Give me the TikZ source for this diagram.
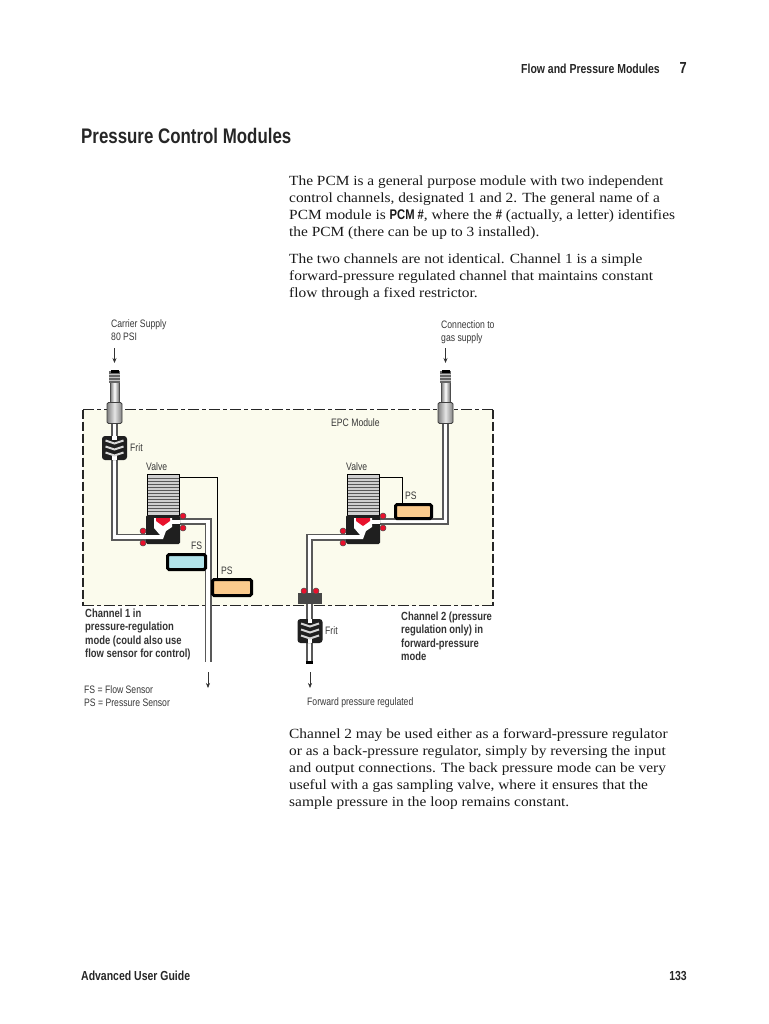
\documentclass[tikz,border=0pt]{standalone}
\usepackage{fontspec}
\usetikzlibrary{arrows.meta}
\setmainfont[FakeStretch=1.1]{Liberation Serif}
\newfontfamily\condfont[FakeStretch=0.80]{Liberation Sans}
\definecolor{framefill}{HTML}{FBFBED}
\definecolor{labelgray}{HTML}{383838}
\definecolor{fsblue}{HTML}{B2E4EA}
\definecolor{psorange}{HTML}{FBCB8D}
\definecolor{pinred}{HTML}{E8112D}
\definecolor{bodygray}{HTML}{C4C4C4}
% threaded inlet: #1 name, #2 x
\newcommand{\inletfitting}[2]{
	\shade[left color=black!55, right color=black!55, middle color=white] (#2-4.5,372) rectangle (#2+4.5,403);
	\draw[black!70, line width=0.7pt] (#2-4.5,382) -- (#2-4.5,403) (#2+4.5,382) -- (#2+4.5,403);
	\fill[black!60] (#2-5.5,371) rectangle (#2+5.5,383);
	\fill[black] (#2-4,369.5) rectangle (#2+4,372.5);
	\foreach \yy in {374.5,377.5,380.5} \draw[bodygray, line width=1.1pt] (#2-5.5,\yy) -- (#2+5.5,\yy);
	\node[fitbody] (#1) at (#2,413) {};
}
% frit: #1 name, #2 x, #3 y
\newcommand{\fritblock}[3]{
	\node[fritbox] (#1) at (#2,#3) {};
	\fill[white] (#2-2.2,#3-12) rectangle (#2+2.2,#3-8);
	\fill[white] (#2-2.2,#3+8) rectangle (#2+2.2,#3+12);
	\foreach \yy in {-6,0,6}
		\draw[bodygray!70!white, line width=2pt] (#2-9,#3+\yy-1.5) -- (#2,#3+\yy+1.5) -- (#2+9,#3+\yy-1.5);
}
% valve: #1 name, #2 x offset
\newcommand{\valveblock}[2]{
	\node[solenoid] (#1) at (163+#2,494.5) {};
	\foreach \yy in {478,481,...,513} \draw[black!65, line width=0.8pt] (147.5+#2,\yy) -- (178.5+#2,\yy);
	\fill[black!88, rounded corners=1.5pt] (146+#2,515) -- (180+#2,515) -- (180+#2,544) -- (146+#2,544) -- cycle;
	\fill[white] (154+#2,518) -- (172+#2,518) -- (172+#2,527) -- (166+#2,531) -- (163+#2,539) -- (146+#2,539) -- (146+#2,535) -- (160+#2,535) -- (154+#2,528) -- cycle;
	\fill[white] (170+#2,519.5) rectangle (180+#2,523.5);
	\fill[pinred] (156+#2,518) -- (170+#2,518) -- (170+#2,521) -- (163+#2,526) -- (156+#2,521) -- cycle;
	\node[pin dot] (#1a) at (183+#2,516) {};
	\node[pin dot] (#1b) at (183+#2,528) {};
	\node[pin dot] (#1c) at (143+#2,531) {};
	\node[pin dot] (#1d) at (143+#2,543) {};
}
\tikzset{
	body text/.style={anchor=north west, inner sep=0pt, align=left, font=\fontsize{14}{17}\selectfont, text=black!90},
	small label/.style={anchor=base west, inner sep=0pt, align=left, text=labelgray, font=\condfont\fontsize{10.8}{13}\selectfont},
	channel label/.style={anchor=north west, inner sep=0pt, align=left, text=black!80, font=\condfont\bfseries\fontsize{11.8}{13.2}\selectfont},
	page label/.style={inner sep=0pt, text=black!85, font=\condfont\bfseries\fontsize{13.1}{15}\selectfont},
	tube/.style={draw=black!65, line width=7pt, postaction={draw=white, line width=3.8pt}},
	signal/.style={draw=black, line width=1pt},
	sensor/.style={draw=black, line width=3pt, rounded corners=1.5pt, inner sep=0pt},
	fritbox/.style={fill=black!88, rounded corners=3pt, minimum width=25pt, minimum height=24pt, inner sep=0pt},
	fitbody/.style={left color=black!50, right color=black!50, middle color=black!10, draw=black!75, line width=0.8pt, rounded corners=1.5pt, minimum width=15pt, minimum height=21pt, inner sep=0pt},
	solenoid/.style={fill=bodygray!80!white, draw=black, line width=1pt, minimum width=32pt, minimum height=41pt, inner sep=0pt},
	pin dot/.style={circle, fill=pinred, draw=black!70, line width=0.5pt, minimum size=6pt, inner sep=0pt},
	flow/.style={-{Stealth[length=5pt,width=4pt]}, draw=black!80, line width=0.6pt},
}
\begin{document}
\begin{tikzpicture}[x=1pt, y=-1pt]
	\useasboundingbox (0,0) rectangle (768,1024);
	% page head and foot
	\node[page label, anchor=base east] (headtitle) at (660,74) {Flow and Pressure Modules};
	\node[page label, anchor=base east, font=\condfont\bfseries\fontsize{16}{18}\selectfont] (headchapter) at (687,74) {7};
	\node[anchor=base west, inner sep=0pt, text=black!85, font=\condfont\bfseries\fontsize{21.1}{24}\selectfont] (pagetitle) at (81,144) {Pressure Control Modules};
	\node[page label, anchor=base west] (footguide) at (81,980) {Advanced User Guide};
	\node[page label, anchor=base east] (footpage) at (687,980) {133};

	% body text
	\node[body text] (parone) at (289,176) {The PCM is a general purpose module with two independent\\control channels, designated 1 and 2. The general name of a\\PCM module is {\condfont\bfseries PCM \#}, where the {\condfont\bfseries \#} (actually, a letter) identifies\\the PCM (there can be up to 3 installed).};
	\node[body text] (partwo) at (289,254) {The two channels are not identical. Channel 1 is a simple\\forward-pressure regulated channel that maintains constant\\flow through a fixed restrictor.};
	\node[body text] (parthree) at (289,728) {Channel 2 may be used either as a forward-pressure regulator\\or as a back-pressure regulator, simply by reversing the input\\and output connections. The back pressure mode can be very\\useful with a gas sampling valve, where it ensures that the\\sample pressure in the loop remains constant.};

	% EPC frame
	\fill[framefill] (83,409.5) rectangle (493,605.5);
	\draw[black!85, line width=1pt, dash pattern=on 11pt off 3pt on 4pt off 3pt] (83,409.5) -- (493,409.5);
	\draw[black!85, line width=1pt, dash pattern=on 11pt off 3pt on 4pt off 3pt] (83,605.5) -- (493,605.5);
	\draw[black!85, line width=1.6pt, dash pattern=on 9pt off 3pt] (83,409.5) -- (83,605.5);
	\draw[black!85, line width=1.6pt, dash pattern=on 9pt off 3pt] (493,409.5) -- (493,605.5);

	% channel 1
	\draw[tube] (114.5,423) -- (114.5,537) -- (150,537);
	\draw[tube] (175,521.5) -- (208,521.5) -- (208,662);
	\inletfitting{inletA}{114.5}
	\fritblock{fritA}{114.5}{448}
	\valveblock{valveA}{0}
	\node[sensor, fill=fsblue, minimum width=38pt, minimum height=15pt] (fsA) at (186.5,562) {};
	\node[sensor, fill=psorange, minimum width=39pt, minimum height=16pt] (psA) at (232,587.5) {};
	\draw[signal] (valveA.north east |- 0,477) -- (217,477) -- (psA.north -| 217,0);

	% channel 2
	\draw[tube] (445.5,423) -- (445.5,521.5) -- (375,521.5);
	\draw[tube] (350,537) -- (309.5,537) -- (309.5,662);
	\fill[black] (306,661) rectangle (313,664);
	\inletfitting{inletB}{445.5}
	\valveblock{valveB}{200}
	\node[sensor, fill=psorange, minimum width=36pt, minimum height=14pt] (psB) at (413.5,511.5) {};
	\draw[signal] (valveB.north east |- 0,477) -- (402,477) -- (psB.north -| 402,0);
	\node[fill=black!72, minimum width=24pt, minimum height=11pt, inner sep=0pt] (manifold) at (310,598.5) {};
	\node[pin dot] (manifolda) at (304,591) {};
	\node[pin dot] (manifoldb) at (316,591) {};
	\fritblock{fritB}{310}{631}

	% flow arrows
	\coordinate (inA) at (114.5,348);
	\coordinate (inB) at (445.5,348);
	\coordinate (inAend) at (114.5,363);
	\coordinate (inBend) at (445.5,363);
	\coordinate (outA) at (208,672);
	\coordinate (outB) at (310,672);
	\coordinate (outAend) at (208,688);
	\coordinate (outBend) at (310,688);
	\draw[flow] (inA) -- (inAend);
	\draw[flow] (inB) -- (inBend);
	\draw[flow] (outA) -- (outAend);
	\draw[flow] (outB) -- (outBend);

	% labels
	\node[small label] (supplyA) at (111,340) {Carrier Supply\\80 PSI};
	\node[small label] (supplyB) at (441,341) {Connection to\\gas supply};
	\node[small label] (epc) at (331,426) {EPC Module};
	\node[small label] (valveAlabel) at (146,470) {Valve};
	\node[small label] (valveBlabel) at (346,470) {Valve};
	\node[small label] (fritAlabel) at (130,451) {Frit};
	\node[small label] (fritBlabel) at (325,634) {Frit};
	\node[small label] (fsAlabel) at (191,549) {FS};
	\node[small label] (psAlabel) at (221,574) {PS};
	\node[small label] (psBlabel) at (405,499) {PS};
	\node[channel label] (channelA) at (85,609) {Channel 1 in\\pressure-regulation\\mode (could also use\\flow sensor for control)};
	\node[channel label] (channelB) at (401,612) {Channel 2 (pressure\\regulation only) in\\forward-pressure\\mode};
	\node[small label] (legend) at (84,706) {FS = Flow Sensor\\PS = Pressure Sensor};
	\node[small label] (outlabel) at (307,705) {Forward pressure regulated};
\end{tikzpicture}
\end{document}
